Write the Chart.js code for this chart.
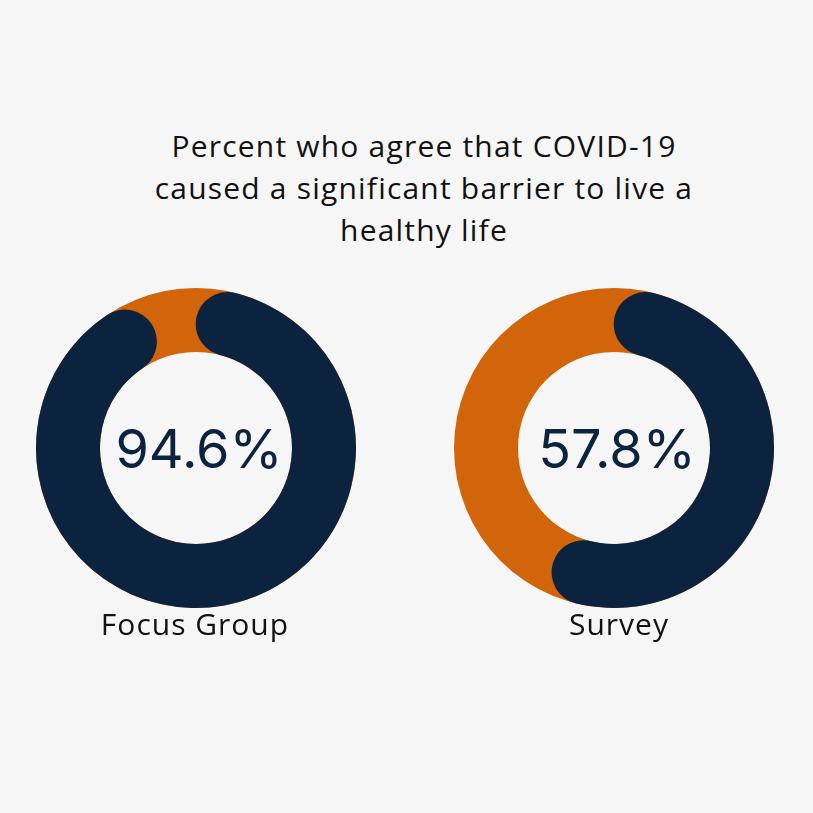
<!DOCTYPE html>
<html>
<head>
<meta charset="utf-8">
<script src="https://cdn.jsdelivr.net/npm/chart.js@4.4.1/dist/chart.umd.min.js"></script>
<style>
  html, body { margin: 0; padding: 0; background: #f6f6f6; }
  #page { position: relative; width: 813px; height: 813px; overflow: hidden; }
  .title {
    position: absolute; left: 24px; top: 125px; width: 800px;
    text-align: center; font-family: "Open Sans", sans-serif; font-size: 30px;
    letter-spacing: 1.2px; line-height: 42px; color: #111;
  }
  .ring { position: absolute; top: 288px; width: 320px; height: 320px; }
  .ring canvas { position: absolute; left: 0; top: 0; }
  .pct {
    position: absolute; left: 3px; top: 0; width: 320px; height: 320px;
    display: flex; align-items: center; justify-content: center;
    font-family: Inter, sans-serif; font-size: 54px; color: #0c2340;
  }
  .label {
    position: absolute; top: 603px; width: 320px; text-align: center;
    font-family: "Open Sans", sans-serif; font-size: 30px; letter-spacing: 1px; color: #111;
  }
</style>
</head>
<body>
<div id="page">
  <div class="title">Percent who agree that COVID-19<br>caused a significant barrier to live a<br>healthy life</div>

  <div class="ring" style="left:36px">
    <canvas id="back0" width="320" height="320"></canvas>
    <canvas id="front0" width="320" height="320"></canvas>
    <div class="pct" id="pct0"></div>
  </div>
  <div class="label" id="label0" style="left:35px"></div>

  <div class="ring" style="left:454px">
    <canvas id="back1" width="320" height="320"></canvas>
    <canvas id="front1" width="320" height="320"></canvas>
    <div class="pct" id="pct1"></div>
  </div>
  <div class="label" id="label1" style="left:459px"></div>
</div>

<script>
// Data
const groups = ['Focus Group', 'Survey'];
const agreePercent = [94.6, 57.8];

const navy = '#0c2340';
const orange = '#d26509';

function baseOptions() {
    return {
        responsive: false,
        animation: false,
        events: [],
        cutout: '60%',
        layout: { padding: 0 },
        plugins: {
            legend: { display: false },
            tooltip: { enabled: false }
        }
    };
}

groups.forEach(function(name, i) {
    const value = agreePercent[i];

    // Full orange track behind
    new Chart(document.getElementById('back' + i), {
        type: 'doughnut',
        data: {
            labels: ['track'],
            datasets: [{
                data: [100],
                backgroundColor: [orange],
                borderWidth: 0
            }]
        },
        options: baseOptions()
    });

    // Navy arc with rounded ends on top
    new Chart(document.getElementById('front' + i), {
        type: 'doughnut',
        data: {
            labels: ['Agree', 'Other'],
            datasets: [{
                data: [value, 100 - value],
                backgroundColor: [navy, 'rgba(0,0,0,0)'],
                borderWidth: 0,
                borderRadius: function(ctx) { return ctx.dataIndex === 0 ? 100 : 0; }
            }]
        },
        options: baseOptions()
    });

    document.getElementById('pct' + i).textContent = value.toFixed(1) + '%';
    document.getElementById('label' + i).textContent = name;
});
</script>
</body>
</html>
